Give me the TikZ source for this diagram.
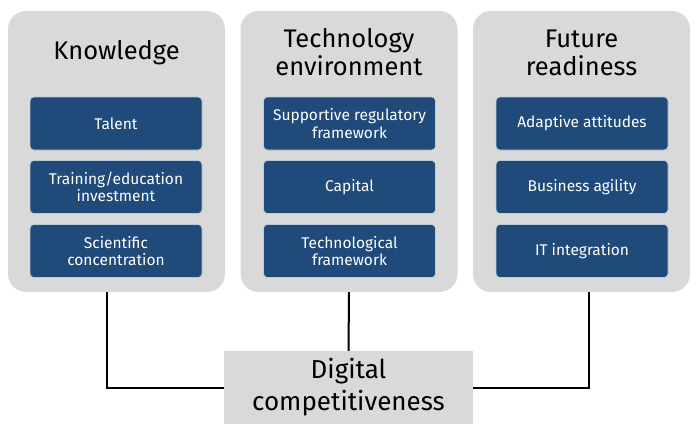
\documentclass[tikz,border=0pt]{standalone}
\usepackage{fontspec}
\setmainfont{Fira Sans}
\usetikzlibrary{positioning}
\definecolor{panelgray}{RGB}{217,217,217}
\definecolor{boxblue}{RGB}{31,74,122}

\begin{document}
\begin{tikzpicture}[x=1pt,y=-1pt,
  panel/.style={fill=panelgray,rounded corners=18pt,minimum width=217pt,minimum height=281pt,inner sep=0pt},
  item/.style={fill=boxblue,draw=white!70!boxblue,line width=0.6pt,rounded corners=4pt,minimum width=172pt,minimum height=53pt,inner sep=0pt,text=white,align=center,font=\fontsize{15.5}{17.5}\selectfont},
  head/.style={align=center,font=\fontsize{25.5}{28}\selectfont},
  link/.style={line width=2pt}]
  \useasboundingbox (0,0) rectangle (700,434);

  % three pillars
  \node[panel] (know) at (116.5,151.5) {};
  \node[panel] (tech) at (349,151.5) {};
  \node[panel] (fut) at (581.5,151.5) {};

  \node[head] (knowhead) at (116.5,53) {Knowledge};
  \node[head] (techhead) at (349,52) {Technology\\environment};
  \node[head] (futhead) at (581.5,53) {Future\\readiness};

  % factors
  \node[item] (talent) at (116,123.5) {Talent};
  \node[item] (train) at (116,187) {Training/education\\investment};
  \node[item] (sci) at (116,251) {Scientific\\concentration};

  \node[item] (reg) at (349.5,123.5) {Supportive regulatory\\framework};
  \node[item] (cap) at (349.5,187) {Capital};
  \node[item] (techfw) at (349.5,251) {Technological\\framework};

  \node[item] (adapt) at (582,123.5) {Adaptive attitudes};
  \node[item] (agile) at (582,187) {Business agility};
  \node[item] (itint) at (582,251) {IT integration};

  % result
  \node[fill=panelgray,minimum width=249pt,minimum height=73pt,inner sep=0pt,align=center,
        font=\fontsize{26}{32}\selectfont] (dc) at (348.5,387.5) {Digital\\competitiveness};

  \draw[link] ([xshift=-9.5pt]know.south) |- (dc.west);
  \draw[link] (tech.south) -- (dc.north);
  \draw[link] ([xshift=7.5pt]fut.south) |- (dc.east);
\end{tikzpicture}
\end{document}
